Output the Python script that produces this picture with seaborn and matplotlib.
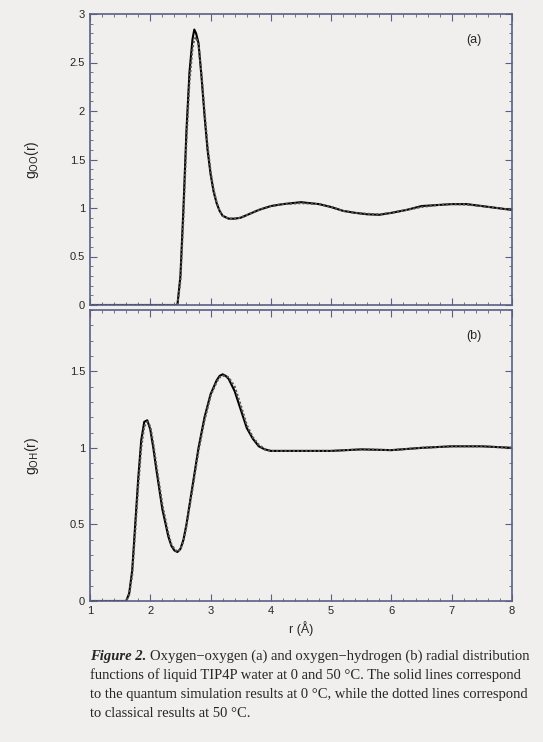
import numpy as np
import pandas as pd
import seaborn as sns
import matplotlib.pyplot as plt
from matplotlib.ticker import MultipleLocator

# dados
r_oo = [1.0, 2.4, 2.45, 2.5, 2.55, 2.6, 2.65, 2.7, 2.73, 2.76, 2.8, 2.85, 2.9, 2.95, 3.0, 3.05,
        3.1, 3.15, 3.2, 3.3, 3.4, 3.5, 3.65, 3.8, 4.0, 4.2, 4.5, 4.8, 5.0, 5.2, 5.4, 5.6, 5.8,
        6.0, 6.25, 6.5, 6.75, 7.0, 7.25, 7.5, 7.75, 8.0]
g_oo_q = [0, 0, 0.0, 0.3, 1.0, 1.8, 2.4, 2.74, 2.84, 2.8, 2.7, 2.35, 1.95, 1.6, 1.35, 1.17,
          1.05, 0.97, 0.92, 0.89, 0.89, 0.9, 0.94, 0.98, 1.02, 1.04, 1.06, 1.04, 1.01, 0.97,
          0.95, 0.935, 0.93, 0.95, 0.98, 1.02, 1.03, 1.04, 1.04, 1.02, 1.0, 0.98]
g_oo_c = [0, 0, 0.0, 0.25, 0.9, 1.7, 2.3, 2.64, 2.74, 2.76, 2.68, 2.38, 2.0, 1.64, 1.38, 1.19,
          1.06, 0.97, 0.92, 0.89, 0.89, 0.9, 0.94, 0.98, 1.02, 1.04, 1.05, 1.04, 1.01, 0.97,
          0.95, 0.94, 0.935, 0.95, 0.98, 1.01, 1.03, 1.04, 1.035, 1.02, 1.0, 0.98]

r_oh = [1.0, 1.6, 1.65, 1.7, 1.75, 1.8, 1.85, 1.9, 1.95, 2.0, 2.05, 2.1, 2.2, 2.3, 2.35, 2.4,
        2.45, 2.5, 2.55, 2.6, 2.7, 2.8, 2.9, 3.0, 3.1, 3.15, 3.2, 3.25, 3.3, 3.4, 3.5, 3.6,
        3.7, 3.8, 3.9, 4.0, 4.5, 5.0, 5.5, 6.0, 6.5, 7.0, 7.5, 8.0]
g_oh_q = [0, 0, 0.05, 0.2, 0.5, 0.8, 1.05, 1.17, 1.18, 1.12, 1.0, 0.86, 0.6, 0.42, 0.36, 0.33,
          0.32, 0.34, 0.4, 0.5, 0.75, 1.0, 1.2, 1.35, 1.44, 1.47, 1.48, 1.47, 1.45, 1.37, 1.25,
          1.13, 1.06, 1.01, 0.99, 0.98, 0.98, 0.98, 0.99, 0.985, 1.0, 1.01, 1.01, 1.0]
g_oh_c = [0, 0, 0.04, 0.17, 0.45, 0.75, 1.0, 1.14, 1.17, 1.14, 1.03, 0.89, 0.63, 0.44, 0.37, 0.34,
          0.32, 0.34, 0.39, 0.49, 0.73, 0.98, 1.18, 1.34, 1.43, 1.46, 1.47, 1.47, 1.46, 1.4, 1.28,
          1.15, 1.07, 1.02, 0.99, 0.98, 0.98, 0.98, 0.99, 0.985, 1.0, 1.01, 1.01, 1.0]

bg = "#f0efed"
azul = "#5a5f85"
sns.set_style("white")
plt.rcParams["font.family"] = ["Liberation Sans", "DejaVu Sans"]

fig = plt.figure(figsize=(5.43, 7.42), dpi=100, facecolor=bg)
ax1 = fig.add_axes([90/543, 1-305/742, 422/543, 291/742])
ax2 = fig.add_axes([90/543, 1-601/742, 422/543, 291/742])

def painel(ax, r, gq, gc, ymax, ymaj, label, ylabel):
    ax.set_facecolor(bg)
    sns.lineplot(x=r, y=gq, ax=ax, color="black", lw=1.5)
    sns.lineplot(x=r, y=gc, ax=ax, color="#555555", lw=1.5, linestyle=(0, (1, 1)))
    ax.set_xlim(1, 8)
    ax.set_ylim(0, ymax)
    ax.xaxis.set_major_locator(MultipleLocator(1))
    ax.xaxis.set_minor_locator(MultipleLocator(0.2))
    ax.yaxis.set_major_locator(MultipleLocator(ymaj))
    ax.yaxis.set_minor_locator(MultipleLocator(0.1))
    ax.tick_params(which="both", direction="in", top=True, right=True, left=True,
                   bottom=True, color=azul, labelsize=8)
    ax.tick_params(which="major", length=5)
    ax.tick_params(which="minor", length=2.5)
    for s in ax.spines.values():
        s.set_color(azul)
        s.set_linewidth(1.2)
    ax.yaxis.set_major_formatter(plt.FuncFormatter(lambda v, p: f"{v:g}"))
    ax.text(0.91, 0.9, label, transform=ax.transAxes, fontsize=9, ha="center")
    ax.set_ylabel(ylabel, fontsize=10)

painel(ax1, r_oo, g_oo_q, g_oo_c, 3, 0.5, "(a)", r"g$_{\rm OO}$(r)")
painel(ax2, r_oh, g_oh_q, g_oh_c, 1.9, 0.5, "(b)", r"g$_{\rm OH}$(r)")
ax1.set_xticklabels([])
ax2.set_xlabel("r (Å)", fontsize=9)
ax1.yaxis.set_label_coords(-0.115, 0.5)
ax2.yaxis.set_label_coords(-0.115, 0.5)

serif = ["Liberation Serif", "DejaVu Serif"]
fig.text(90/543, 1-660/742, "Figure 2.", family=serif, fontsize=10.5,
         weight="bold", style="italic")
fig.text(150/543, 1-660/742, "Oxygen\u2212oxygen (a) and oxygen\u2212hydrogen (b) radial distribution",
         family=serif, fontsize=10.5)
linhas = ["functions of liquid TIP4P water at 0 and 50 °C. The solid lines correspond",
          "to the quantum simulation results at 0 °C, while the dotted lines correspond",
          "to classical results at 50 °C."]
for i, l in enumerate(linhas):
    fig.text(90/543, 1-(679 + 19*i)/742, l, family=serif, fontsize=10.5)

fig.savefig("out.png", dpi=100, facecolor=bg)
